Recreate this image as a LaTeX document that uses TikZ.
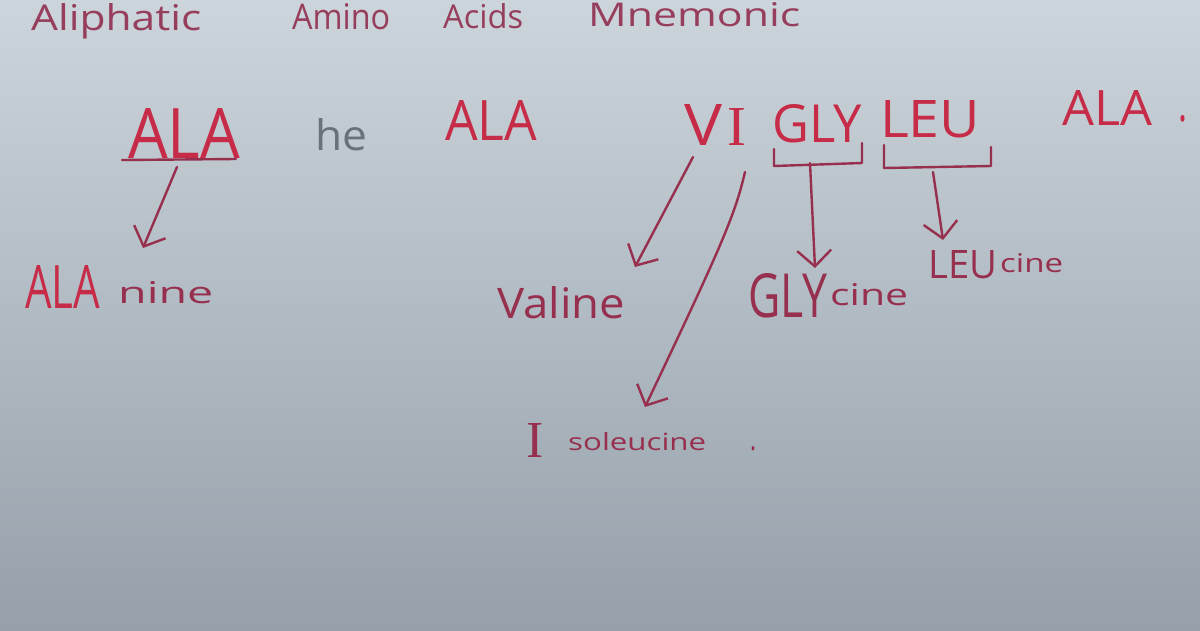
\documentclass[tikz,border=0pt]{standalone}
\usepackage{fontspec}
\setmainfont{Open Sans}
\newfontfamily\serifI{Liberation Serif}
\usepackage{graphicx}
\usetikzlibrary{arrows.meta}
\definecolor{bgtop}{RGB}{204,213,219}
\definecolor{bgbot}{RGB}{150,160,170}
\definecolor{inkred}{RGB}{198,44,72}
\definecolor{ink}{RGB}{150,48,78}
\definecolor{titleink}{RGB}{150,62,92}
\definecolor{pencil}{RGB}{104,114,120}
\newcommand{\fitword}[3]{\resizebox{#1pt}{#2pt}{#3}}
\begin{document}
\begin{tikzpicture}[x=1pt,y=-1pt,
  word/.style={inner sep=0pt, anchor=base west, font=\fontsize{40}{40}\selectfont},
  bigword/.style={word, text=inkred},
  smallword/.style={word, text=ink},
  titleword/.style={word, text=titleink},
  pencilword/.style={word, text=pencil},
  conn/.style={draw=ink, line width=2.4pt, line cap=round, line join=round},
  tipped/.style={conn, -{Straight Barb[length=16pt,width=34pt]}}
]
\useasboundingbox (0,0) rectangle (1200,630);
\clip (0,0) rectangle (1200,630);
\shade[top color=bgtop, bottom color=bgbot] (0,0) rectangle (1200,630);

% title
\node[titleword] (t1) at (31,30) {\fitword{170}{27}{Aliphatic}};
\node[titleword] (t2) at (292,29) {\fitword{98}{26}{Amino}};
\node[titleword] (t3) at (443,28) {\fitword{80}{25}{Acids}};
\node[titleword] (t4) at (588,26) {\fitword{212}{24}{Mnemonic}};

% mnemonic line
\node[bigword] (ala1) at (128,158) {\fitword{112}{50}{ALA}};
\draw[conn] (122,160) -- (236,159);
\node[pencilword] (he) at (315,150) {\fitword{52}{32}{he}};
\node[bigword] (ala2) at (445,140) {\fitword{92}{40}{ALA}};
\node[bigword] (vV) at (684,145) {\fitword{38}{41}{V}};
\node[bigword] (vI) at (727,145) {\resizebox{!}{37pt}{\serifI I}};
\node[bigword] (gly) at (772,142) {\fitword{90}{38}{GLY}};
\node[bigword] (leu) at (880,137) {\fitword{100}{37}{LEU}};
\node[bigword] (ala3) at (1062,125) {\fitword{90}{35}{ALA}};
\node[bigword] (dot1) at (1178,121) {\fitword{9}{6}{.}};

% brackets
\draw[conn] (774,149) -- (774,166) -- (862,163) -- (862,143);
\draw[conn] (884,145) -- (884,168) -- (991,166) -- (991,147);

% expansions
\node[bigword] (alaA) at (25,308) {\fitword{75}{43}{ALA}};
\node[smallword] (alaB) at (118,303) {\fitword{95}{22}{nine}};
\node[smallword] (val) at (497,318) {\fitword{128}{32}{Valine}};
\node[smallword] (isoA) at (526,457) {\resizebox{!}{34pt}{\serifI I}};
\node[smallword] (isoB) at (568,450) {\fitword{138}{18}{soleucine}};
\node[smallword] (dot2) at (750,450) {\fitword{6}{4}{.}};
\node[smallword] (glyA) at (748,317) {\fitword{79}{44}{GLY}};
\node[smallword] (glyB) at (830,305) {\fitword{78}{22}{cine}};
\node[smallword] (leuA) at (928,278) {\fitword{69}{28}{LEU}};
\node[smallword] (leuB) at (1000,272) {\fitword{63}{19}{cine}};

% arrows
\coordinate (aS) at (177,167); \coordinate (aT) at (143,248);
\draw[tipped] (aS) -- (aT);
\coordinate (vS) at (693,157); \coordinate (vT) at (635,267);
\draw[tipped] (vS) -- (vT);
\coordinate (iS) at (745,172); \coordinate (iT) at (645,407);
\draw[tipped] (iS) .. controls (735,215) and (722,245) .. (iT);
\coordinate (gS) at (810,163); \coordinate (gT) at (815,268);
\draw[tipped] (gS) -- (gT);
\coordinate (lS) at (933,172); \coordinate (lT) at (943,240);
\draw[tipped] (lS) -- (lT);
\end{tikzpicture}
\end{document}
